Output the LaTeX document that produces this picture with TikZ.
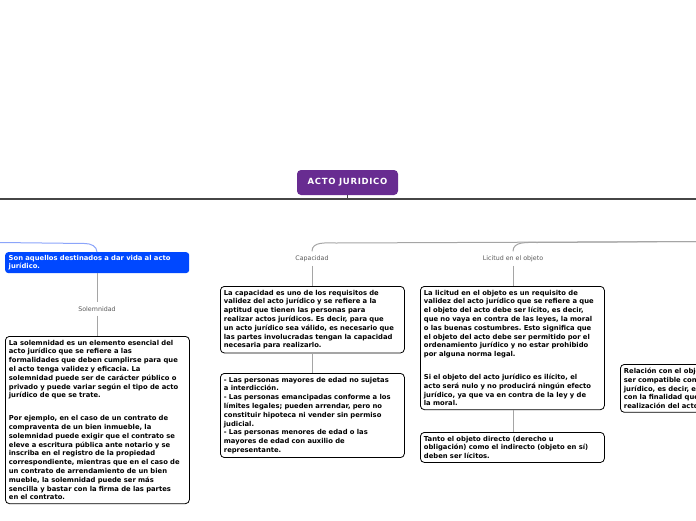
\documentclass[tikz,border=0pt]{standalone}
\usepackage{fontspec}
\setmainfont{DejaVu Sans}
\frenchspacing
\usetikzlibrary{positioning}
\definecolor{rootpurple}{RGB}{104,44,145}
\definecolor{aimblue}{RGB}{0,72,255}
\definecolor{linkgray}{RGB}{165,165,165}
\definecolor{bluelink}{RGB}{140,165,250}
\definecolor{labelgray}{RGB}{90,90,90}
\definecolor{bargray}{RGB}{70,70,70}

\tikzset{
	rootbox/.style={fill=rootpurple, rounded corners=4pt, text=white, minimum width=101pt, minimum height=25pt, inner sep=0pt,
		font=\fontsize{8.5}{10}\selectfont\bfseries\addfontfeatures{LetterSpace=8}},
	aimbox/.style={fill=aimblue, rounded corners=3pt, text=white, anchor=north west, align=left, text width=177pt,
		inner xsep=3.5pt, inner ysep=2.7pt, font=\fontsize{6.8}{8.8}\selectfont\bfseries},
	textbox/.style={draw=black, line width=0.8pt, rounded corners=4pt, fill=white, anchor=north west, align=left, text width=177pt,
		inner xsep=3.5pt, inner ysep=3.6pt, font=\fontsize{6.8}{8.8}\selectfont\bfseries},
	branchlabel/.style={fill=white, text=labelgray, inner sep=4pt, font=\fontsize{6.3}{7}\selectfont},
	barline/.style={draw=bargray, line width=1.1pt},
	graylink/.style={draw=linkgray, line width=1pt},
}

\begin{document}
\begin{tikzpicture}[x=1pt,y=1pt]
	\useasboundingbox (0,0) rectangle (696,-520);
	\coordinate (bar_left) at (0,-199);
	\coordinate (bar_right) at (696,-199);
	\coordinate (blue_in) at (0,-242.5);
	\coordinate (cap_out) at (696,-241.5);
	\coordinate (lic_out) at (696,-241.5);

	\node [rootbox] (root_node) at (347.5,-182.5) {ACTO JURIDICO};
	\draw [barline] (bar_left) -- (bar_right);
	\draw [barline] (root_node.south) -- (root_node.south |- bar_left);

	% left branch
	\node [aimbox] (aim_node) at (5,-252) {Son aquellos destinados a dar vida al acto\\jurídico.};
	\node [branchlabel] (solemn_label) at (97,-309) {Solemnidad};
	\node [textbox] (solemn_node) at (5,-336) {La solemnidad es un elemento esencial del\\acto jurídico que se refiere a las\\formalidades que deben cumplirse para que\\el acto tenga validez y eficacia. La\\solemnidad puede ser de carácter público o\\privado y puede variar según el tipo de acto\\jurídico de que se trate.\\[14pt]Por ejemplo, en el caso de un contrato de\\compraventa de un bien inmueble, la\\solemnidad puede exigir que el contrato se\\eleve a escritura pública ante notario y se\\inscriba en el registro de la propiedad\\correspondiente, mientras que en el caso de\\un contrato de arrendamiento de un bien\\mueble, la solemnidad puede ser más\\sencilla y bastar con la firma de las partes\\en el contrato.};
	\draw [draw=bluelink, line width=1pt] (blue_in) -- (85,-243.5) to [out=0,in=90] (aim_node.north -| solemn_label);
	\draw [graylink] (aim_node.south -| solemn_label) -- (solemn_label);
	\draw [graylink] (solemn_label) -- (solemn_label |- solemn_node.north);

	% capacidad
	\node [branchlabel] (cap_label) at (312,-258.5) {Capacidad};
	\node [textbox] (cap_node) at (220,-286) {La capacidad es uno de los requisitos de\\validez del acto jurídico y se refiere a la\\aptitud que tienen las personas para\\realizar actos jurídicos. Es decir, para que\\un acto jurídico sea válido, es necesario que\\las partes involucradas tengan la capacidad\\necesaria para realizarlo.};
	\node [textbox] (persons_node) at (220,-373) {- Las personas mayores de edad no sujetas\\a interdicción.\\- Las personas emancipadas conforme a los\\límites legales; pueden arrendar, pero no\\constituir hipoteca ni vender sin permiso\\judicial.\\- Las personas menores de edad o las\\mayores de edad con auxilio de\\representante.};
	\draw [graylink] (cap_label.north) to [out=90,in=180] (336,-243) -- (cap_out);
	\draw [graylink] (cap_label) -- (cap_label |- cap_node.north);
	\draw [graylink] (cap_label |- cap_node.south) -- (cap_label |- persons_node.north);

	% licitud
	\node [branchlabel] (lic_label) at (513,-258.5) {Licitud en el objeto};
	\node [textbox] (lic_node) at (420,-286) {La licitud en el objeto es un requisito de\\validez del acto jurídico que se refiere a que\\el objeto del acto debe ser lícito, es decir,\\que no vaya en contra de las leyes, la moral\\o las buenas costumbres. Esto significa que\\el objeto del acto debe ser permitido por el\\ordenamiento jurídico y no estar prohibido\\por alguna norma legal.\\[14pt]Si el objeto del acto jurídico es ilícito, el\\acto será nulo y no producirá ningún efecto\\jurídico, ya que va en contra de la ley y de\\la moral.};
	\node [textbox] (both_node) at (420,-432) {Tanto el objeto directo (derecho u\\obligación) como el indirecto (objeto en sí)\\deben ser lícitos.};
	\draw [graylink] (lic_label.north) to [out=90,in=180] (537,-242.5) -- (lic_out);
	\draw [graylink] (lic_label) -- (lic_label |- lic_node.north);
	\draw [graylink] (lic_label |- lic_node.south) -- (lic_label |- both_node.north);

	% right edge
	\node [textbox] (relation_node) at (620,-364) {Relación con el objeto\\ser compatible con el\\jurídico, es decir, el\\con la finalidad que\\realización del acto};
\end{tikzpicture}
\end{document}
